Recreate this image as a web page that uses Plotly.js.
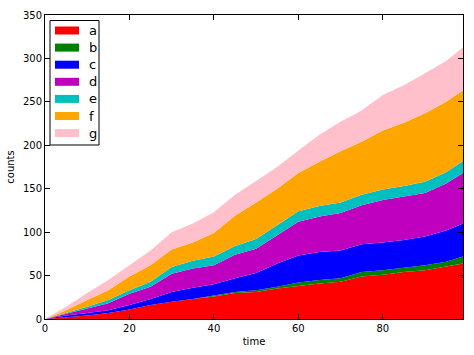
<!DOCTYPE html>
<html>
<head>
<meta charset="utf-8">
<script src="https://cdn.plot.ly/plotly-3.0.1.min.js"></script>
<style>html,body{margin:0;padding:0;background:#fff;}#chart{width:474px;height:355px;}</style>
</head>
<body>
<div id="chart"></div>
<script>
const time = [0,5,10,15,20,25,30,35,40,45,50,55,60,65,70,75,80,85,90,95,99];
const seriesNames = ['a','b','c','d','e','f','g'];
const a = [0,2,4,7,11,16,20,23,26,30,31,35,38,41,43,49,51,54,56,60,64];
const b = [0,0,0,0,0,0,0,0,1,1,2,2,4,4,4,5,5,5,6,6,8];
const c = [0,2,3,3,5,7,11,13,13,16,20,27,31,32,32,32,32,32,33,36,38];
const d = [0,2,5,8,13,14,21,22,22,27,28,33,39,41,43,45,49,50,50,54,58];
const e = [0,1,2,4,4,6,8,9,10,10,11,11,12,12,12,12,12,12,13,13,14];
const f = [0,3,8,11,16,19,20,21,27,35,42,42,44,51,59,61,68,73,79,81,81];
const g = [0,4,8,12,13,17,20,22,24,24,25,25,26,31,34,36,41,43,46,47,50];
const xTicks = [0,20,40,60,80];
const yTicks = [0,50,100,150,200,250,300,350];
const colors = ['#ff0000','#008000','#0000ff','#bf00bf','#00bfbf','#ffa500','#ffc0cb'];
const values = [a,b,c,d,e,f,g];

const traces = values.map((v,i)=>({
  x: time, y: v, name: seriesNames[i], type:'scatter', mode:'lines',
  stackgroup:'one', line:{width:0, color:colors[i]}, fillcolor:colors[i], showlegend:false
}));

// custom legend (matplotlib-like), positioned in paper coordinates
const W = 474, H = 355, mL = 45, mR = 11, mT = 15, mB = 36;
const pw = W - mL - mR, ph = H - mT - mB;
const px = x => (x - mL) / pw;
const py = y => (H - mB - y) / ph;
const shapes = [{type:'rect', xref:'paper', yref:'paper', x0:px(50), x1:px(99), y0:py(145), y1:py(20.5),
  line:{color:'#000', width:1}, fillcolor:'#fff', layer:'above'}];
const annotations = [];
seriesNames.forEach((n,i)=>{
  const cy = 30.5 + 17.1*i;
  shapes.push({type:'rect', xref:'paper', yref:'paper', x0:px(55), x1:px(79), y0:py(cy+4), y1:py(cy-4),
    line:{width:0}, fillcolor:colors[i], layer:'above'});
  annotations.push({xref:'paper', yref:'paper', x:px(87), y:py(cy), xanchor:'left', yanchor:'middle',
    text:n, showarrow:false, font:{family:'DejaVu Sans', size:13, color:'#000'}});
});

const axisCommon = {
  showline:true, linecolor:'#000', linewidth:1, mirror:'allticks',
  ticks:'inside', ticklen:5, tickcolor:'#000', showgrid:false, zeroline:false,
  tickfont:{family:'DejaVu Sans', size:10, color:'#000'}
};

const layout = {
  width:W, height:H,
  margin:{l:mL, r:mR, t:mT, b:mB},
  paper_bgcolor:'#fff', plot_bgcolor:'#fff',
  showlegend:false,
  shapes: shapes, annotations: annotations,
  xaxis: Object.assign({}, axisCommon, {range:[0,99], tickvals:xTicks, ticktext:xTicks.map(String),
    title:{text:'time', font:{family:'DejaVu Sans', size:10, color:'#000'}, standoff:4}}),
  yaxis: Object.assign({}, axisCommon, {range:[0,350], tickvals:yTicks, ticktext:yTicks.map(String),
    title:{text:'counts', font:{family:'DejaVu Sans', size:10, color:'#000'}, standoff:6}})
};

Plotly.newPlot('chart', traces, layout, {displayModeBar:false, staticPlot:true});
</script>
</body>
</html>
